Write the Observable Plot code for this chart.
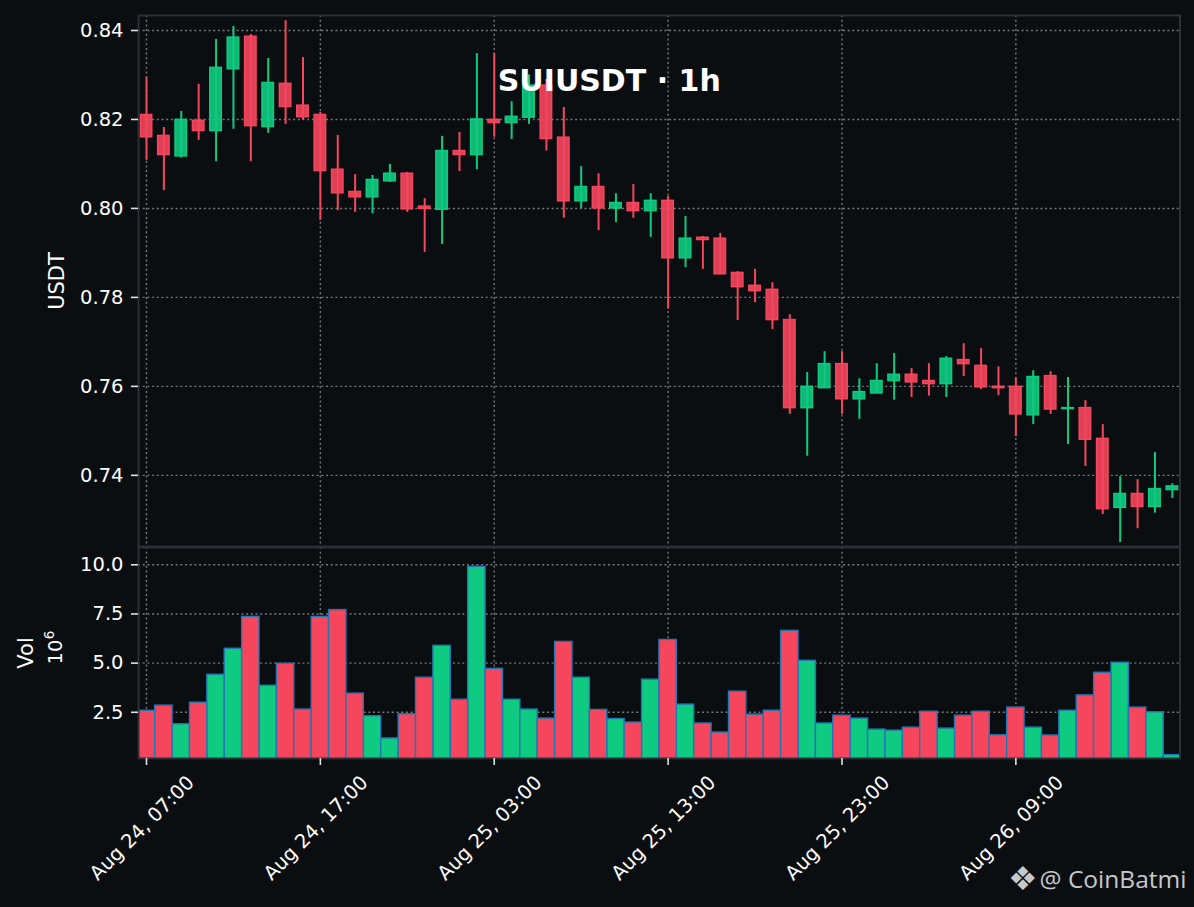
<!DOCTYPE html>
<html>
<head>
<meta charset="utf-8">
<script src="https://cdn.jsdelivr.net/npm/d3@7"></script>
<script src="https://cdn.jsdelivr.net/npm/@observablehq/plot@0.6"></script>
<style>
  html, body { margin: 0; padding: 0; background: #0b0e11; }
  #chart { position: relative; width: 1194px; height: 907px; background: #0b0e11; overflow: hidden; font-family: "DejaVu Sans", sans-serif; }
  #wm { position: absolute; left: 1008px; top: 861px; color: #c8c8c8; font-family: "Open Sans", sans-serif; font-size: 24.5px; white-space: nowrap; line-height: 36px; }
  #wm .ic { font-family: "DejaVu Sans", sans-serif; font-size: 33px; margin-right: 2px; vertical-align: -2px; }
</style>
</head>
<body>
<div id="chart"><div id="wm"><span class="ic">❖</span>@ CoinBatmi</div></div>
<script>
// ---- data ----
const times = [
  "2024-08-24T07:00Z","2024-08-24T08:00Z","2024-08-24T09:00Z","2024-08-24T10:00Z","2024-08-24T11:00Z",
  "2024-08-24T12:00Z","2024-08-24T13:00Z","2024-08-24T14:00Z","2024-08-24T15:00Z","2024-08-24T16:00Z",
  "2024-08-24T17:00Z","2024-08-24T18:00Z","2024-08-24T19:00Z","2024-08-24T20:00Z","2024-08-24T21:00Z",
  "2024-08-24T22:00Z","2024-08-24T23:00Z","2024-08-25T00:00Z","2024-08-25T01:00Z","2024-08-25T02:00Z",
  "2024-08-25T03:00Z","2024-08-25T04:00Z","2024-08-25T05:00Z","2024-08-25T06:00Z","2024-08-25T07:00Z",
  "2024-08-25T08:00Z","2024-08-25T09:00Z","2024-08-25T10:00Z","2024-08-25T11:00Z","2024-08-25T12:00Z",
  "2024-08-25T13:00Z","2024-08-25T14:00Z","2024-08-25T15:00Z","2024-08-25T16:00Z","2024-08-25T17:00Z",
  "2024-08-25T18:00Z","2024-08-25T19:00Z","2024-08-25T20:00Z","2024-08-25T21:00Z","2024-08-25T22:00Z",
  "2024-08-25T23:00Z","2024-08-26T00:00Z","2024-08-26T01:00Z","2024-08-26T02:00Z","2024-08-26T03:00Z",
  "2024-08-26T04:00Z","2024-08-26T05:00Z","2024-08-26T06:00Z","2024-08-26T07:00Z","2024-08-26T08:00Z",
  "2024-08-26T09:00Z","2024-08-26T10:00Z","2024-08-26T11:00Z","2024-08-26T12:00Z","2024-08-26T13:00Z",
  "2024-08-26T14:00Z","2024-08-26T15:00Z","2024-08-26T16:00Z","2024-08-26T17:00Z","2024-08-26T18:00Z"
];
const open = [
  0.8210,0.8163,0.8117,0.8197,0.8174,0.8313,0.8386,0.8183,0.8280,0.8231,
  0.8210,0.8087,0.8037,0.8025,0.8061,0.8078,0.8004,0.7997,0.8129,0.8120,
  0.8199,0.8192,0.8204,0.8276,0.8159,0.8016,0.8048,0.8000,0.8012,0.7994,
  0.8017,0.7888,0.7934,0.7932,0.7855,0.7826,0.7817,0.7749,0.7551,0.7596,
  0.7650,0.7571,0.7584,0.7612,0.7626,0.7612,0.7605,0.7659,0.7646,0.7599,
  0.7599,0.7535,0.7623,0.7549,0.7551,0.7482,0.7327,0.7358,0.7329,0.7367
];
const high = [
  0.8294,0.8182,0.8218,0.8279,0.8380,0.8409,0.8391,0.8337,0.8422,0.8339,
  0.8216,0.8164,0.8076,0.8074,0.8099,0.8081,0.8022,0.8162,0.8171,0.8348,
  0.8348,0.8240,0.8300,0.8290,0.8227,0.8094,0.8078,0.8033,0.8054,0.8033,
  0.8027,0.7982,0.7937,0.7944,0.7858,0.7863,0.7833,0.7761,0.7631,0.7678,
  0.7678,0.7617,0.7651,0.7674,0.7640,0.7651,0.7667,0.7696,0.7685,0.7644,
  0.7619,0.7635,0.7633,0.7620,0.7568,0.7514,0.7397,0.7390,0.7451,0.7381
];
const low = [
  0.8108,0.8040,0.8113,0.8153,0.8105,0.8178,0.8105,0.8169,0.8189,0.8198,
  0.7973,0.7995,0.7991,0.7988,0.8059,0.7991,0.7901,0.7919,0.8083,0.8087,
  0.8160,0.8155,0.8189,0.8129,0.7978,0.8000,0.7950,0.7968,0.7978,0.7935,
  0.7774,0.7867,0.7863,0.7852,0.7748,0.7788,0.7728,0.7537,0.7443,0.7596,
  0.7537,0.7526,0.7584,0.7569,0.7575,0.7578,0.7575,0.7622,0.7593,0.7579,
  0.7487,0.7514,0.7537,0.7469,0.7420,0.7312,0.7249,0.7280,0.7315,0.7348
];
const close = [
  0.8160,0.8120,0.8199,0.8174,0.8316,0.8384,0.8185,0.8282,0.8228,0.8205,
  0.8084,0.8034,0.8025,0.8064,0.8078,0.7998,0.7999,0.8129,0.8120,0.8200,
  0.8192,0.8206,0.8276,0.8156,0.8016,0.8048,0.8000,0.8012,0.7994,0.8017,
  0.7888,0.7932,0.7929,0.7852,0.7823,0.7814,0.7749,0.7551,0.7599,0.7650,
  0.7571,0.7587,0.7612,0.7626,0.7609,0.7605,0.7662,0.7650,0.7598,0.7596,
  0.7537,0.7621,0.7548,0.7551,0.7480,0.7324,0.7358,0.7329,0.7369,0.7375
];
// volume in millions (axis shows ×10^6)
const volume = [
  2.58,2.84,1.89,2.99,4.41,5.73,7.35,3.85,4.97,2.64,
  7.35,7.70,3.45,2.30,1.17,2.40,4.26,5.88,3.14,9.90,
  4.71,3.14,2.64,2.18,6.08,4.26,2.62,2.16,1.98,4.16,
  6.18,2.89,1.93,1.47,3.55,2.38,2.58,6.64,5.12,1.93,
  2.33,2.18,1.62,1.57,1.72,2.53,1.67,2.33,2.53,1.33,
  2.74,1.72,1.32,2.58,3.36,4.51,5.02,2.74,2.50,0.32
];
const xTicks = ["2024-08-24T07:00Z","2024-08-24T17:00Z","2024-08-25T03:00Z","2024-08-25T13:00Z","2024-08-25T23:00Z","2024-08-26T09:00Z"];
const priceTicks = [0.74, 0.76, 0.78, 0.80, 0.82, 0.84];
const volTicks = [2.5, 5.0, 7.5, 10.0];
const title = "SUIUSDT · 1h";

// ---- build ----
const UP = "#0ecb81", DN = "#f6465d";
const H = 3600e3;
const rows = times.map((s, i) => ({t: new Date(s), o: open[i], h: high[i], l: low[i], c: close[i], v: volume[i]}));
const ups = rows.filter(d => d.c >= d.o);
const dns = rows.filter(d => d.c < d.o);
const tickDates = xTicks.map(s => new Date(s));
const xDomain = [new Date(+rows[0].t - 0.46 * H), new Date(+rows[rows.length - 1].t + 0.44 * H)];
const fmtX = d3.utcFormat("%b %d, %H:%M");

const gridStyle = {stroke: "#8a8a8a", strokeWidth: 1.4, strokeDasharray: "2,2.7", strokeOpacity: 0.85};
const frameStyle = {stroke: "#2b2f36", strokeWidth: 2};
const baseStyle = {background: "transparent", color: "#ffffff", fontFamily: "DejaVu Sans, sans-serif", fontSize: "19.5px", overflow: "visible"};

function candleMarks(data, col) {
  return [
    Plot.ruleX(data, {x: "t", y1: "l", y2: "h", stroke: col, strokeWidth: 2}),
    Plot.rect(data, {
      x1: d => new Date(+d.t - 0.33 * H), x2: d => new Date(+d.t + 0.33 * H),
      y1: "o", y2: "c", fill: col, fillOpacity: 0.9, stroke: col, strokeWidth: 1.5
    })
  ];
}

const topPlot = Plot.plot({
  width: 1194, height: 547,
  marginTop: 15, marginBottom: 1, marginLeft: 138, marginRight: 14.5,
  style: baseStyle,
  x: {type: "utc", domain: xDomain, axis: null},
  y: {domain: [0.7240, 0.84337], axis: null},
  marks: [
    Plot.gridX(tickDates, gridStyle),
    Plot.gridY(priceTicks, gridStyle),
    ...candleMarks(ups, UP),
    ...candleMarks(dns, DN),
    Plot.frame(frameStyle),
    Plot.axisY(priceTicks, {tickFormat: d3.format(".2f"), tickSize: 7, tickPadding: 8, stroke: "#e0e0e0", strokeWidth: 1.6, fill: "#ffffff", fontSize: 19.5, label: null}),
    Plot.text(["USDT"], {text: d => d, frameAnchor: "left", textAnchor: "middle", dx: -81, rotate: -90, fontSize: 21, fill: "#ffffff"}),
    Plot.text([title], {text: d => d, frameAnchor: "top", dx: -50, dy: 54, fontSize: 30, fontWeight: "bold", fill: "#ffffff"})
  ]
});

const botPlot = Plot.plot({
  width: 1194, height: 367,
  marginTop: 7, marginBottom: 149, marginLeft: 138, marginRight: 14.5,
  style: baseStyle,
  x: {type: "utc", domain: xDomain, axis: null},
  y: {domain: [0.15, 10.88], axis: null},
  marks: [
    Plot.gridX(tickDates, gridStyle),
    Plot.gridY(volTicks, gridStyle),
    Plot.rectY(ups, {x1: d => new Date(+d.t - 0.5 * H), x2: d => new Date(+d.t + 0.5 * H), y: "v", fill: UP, stroke: "#1f77b4", strokeWidth: 1.4, clip: true}),
    Plot.rectY(dns, {x1: d => new Date(+d.t - 0.5 * H), x2: d => new Date(+d.t + 0.5 * H), y: "v", fill: DN, stroke: "#1f77b4", strokeWidth: 1.4, clip: true}),
    Plot.frame(frameStyle),
    Plot.axisY(volTicks, {tickFormat: d3.format(".1f"), tickSize: 7, tickPadding: 8, stroke: "#e0e0e0", strokeWidth: 1.6, fill: "#ffffff", fontSize: 19.5, label: null}),
    Plot.axisX(tickDates, {anchor: "bottom", tickSize: 7, tickFormat: () => "", stroke: "#e0e0e0", strokeWidth: 1.6, label: null}),
    Plot.text(tickDates, {x: d => d, text: d => fmtX(d), frameAnchor: "bottom", dy: 74, rotate: -45, fontSize: 19.5, fill: "#ffffff"}),
    Plot.text(["Vol"], {text: d => d, frameAnchor: "left", textAnchor: "middle", dx: -112, rotate: -90, fontSize: 21, fill: "#ffffff"}),
    Plot.text(["10"], {text: d => d, frameAnchor: "left", textAnchor: "middle", dx: -82.5, dy: -1, rotate: -90, fontSize: 19.5, fill: "#ffffff"}),
    Plot.text(["6"], {text: d => d, frameAnchor: "left", textAnchor: "middle", dx: -89, dy: -18, rotate: -90, fontSize: 13.5, fill: "#ffffff"})
  ]
});

const chart = document.getElementById("chart");
topPlot.style.position = "absolute"; topPlot.style.left = "0px"; topPlot.style.top = "0px";
botPlot.style.position = "absolute"; botPlot.style.left = "0px"; botPlot.style.top = "540px";
chart.insertBefore(botPlot, chart.firstChild);
chart.insertBefore(topPlot, chart.firstChild);
</script>
</body>
</html>
